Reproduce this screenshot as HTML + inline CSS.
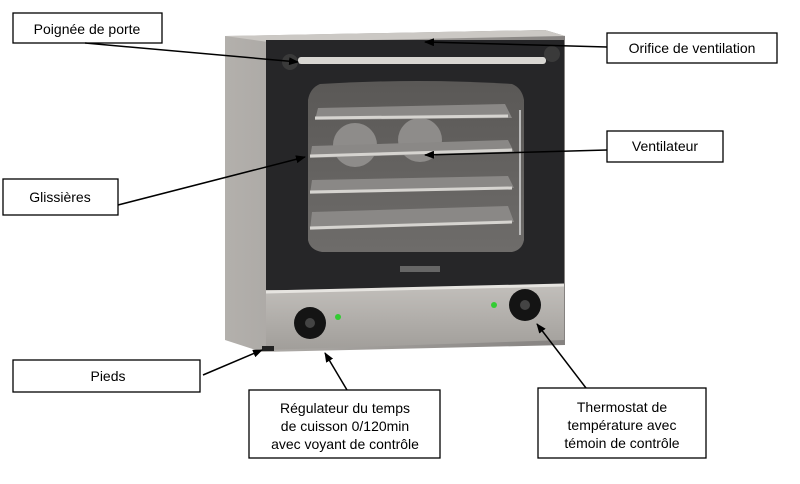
<!DOCTYPE html>
<html><head><meta charset="utf-8"><style>
body{margin:0;background:#fff;}
svg{display:block;font-family:"Liberation Sans",sans-serif;}
</style></head><body>
<svg width="800" height="484" viewBox="0 0 800 484" xmlns="http://www.w3.org/2000/svg">
<defs>
<marker id="a" markerWidth="10" markerHeight="8" refX="9" refY="4" orient="auto" markerUnits="userSpaceOnUse"><path d="M0,0 L10,4 L0,8 z" fill="#000"/></marker>
<linearGradient id="side" x1="0" x2="1"><stop offset="0" stop-color="#b3b0ac"/><stop offset="1" stop-color="#858280"/></linearGradient>
<linearGradient id="panel" x1="0" y1="0" x2="0" y2="1"><stop offset="0" stop-color="#c2bfbb"/><stop offset="1" stop-color="#a19e9a"/></linearGradient>
<linearGradient id="win" x1="0" y1="0" x2="0" y2="1"><stop offset="0" stop-color="#5a5856"/><stop offset="1" stop-color="#6e6c6a"/></linearGradient>
</defs>
<polygon points="225,36 545,30 565,36 565,345 262,352 225,340" fill="url(#side)"/>
<polygon points="225,36 545,30 565,36 268,42" fill="#cbc8c4"/>
<rect x="266" y="40" width="298" height="250" fill="#262628"/>
<polygon points="266,292 564,285 564,340 266,350" fill="url(#panel)"/>
<line x1="266" y1="292" x2="564" y2="285" stroke="#e6e4e0" stroke-width="3"/>
<path d="M320,84 Q420,78 512,84 Q522,88 524,100 L524,240 Q522,250 512,252 L322,252 Q310,250 308,240 L308,100 Q310,88 320,84z" fill="url(#win)"/>
<circle cx="355" cy="145" r="22" fill="#8e8c8a"/><circle cx="420" cy="140" r="22" fill="#8e8c8a"/>
<g fill="#8a8886">
<polygon points="318,108 505,104 512,118 315,120"/>
<polygon points="312,146 508,140 514,152 310,158"/>
<polygon points="312,180 508,176 514,188 310,194"/>
<polygon points="312,212 508,206 514,222 310,230"/>
</g>
<g stroke="#d6d4d0" stroke-width="3" fill="none">
<line x1="315" y1="118" x2="508" y2="116"/><line x1="310" y1="156" x2="512" y2="150"/>
<line x1="310" y1="192" x2="512" y2="188"/><line x1="310" y1="228" x2="512" y2="222"/>
</g>
<line x1="520" y1="110" x2="520" y2="235" stroke="#bbb" stroke-width="2"/>
<rect x="298" y="57" width="248" height="7" rx="3" fill="#d8d6d2"/>
<circle cx="290" cy="62" r="8" fill="#3a3a3a"/><circle cx="552" cy="54" r="8" fill="#3a3a3a"/>
<rect x="400" y="266" width="40" height="6" fill="#666"/>
<circle cx="310" cy="323" r="16" fill="#141414"/><circle cx="310" cy="323" r="5" fill="#444"/>
<circle cx="525" cy="305" r="16" fill="#141414"/><circle cx="525" cy="305" r="5" fill="#444"/>
<circle cx="338" cy="317" r="3" fill="#3c3"/><circle cx="494" cy="305" r="3" fill="#3c3"/>
<rect x="262" y="346" width="12" height="5" fill="#222"/>
<g fill="#fff" stroke="#000" stroke-width="1.3">
<rect x="13" y="13" width="149" height="30"/>
<rect x="607" y="33" width="170" height="30"/>
<rect x="607" y="131" width="116" height="31"/>
<rect x="3" y="179" width="115" height="36"/>
<rect x="13" y="360" width="187" height="32"/>
<rect x="249" y="390" width="191" height="68"/>
<rect x="538" y="388" width="168" height="70"/>
</g>
<g font-size="14" text-anchor="middle" fill="#000">
<text x="87" y="34">Poignée de porte</text>
<text x="692" y="53">Orifice de ventilation</text>
<text x="665" y="151">Ventilateur</text>
<text x="60" y="202">Glissières</text>
<text x="108" y="381">Pieds</text>
<text x="345" y="413">Régulateur du temps</text>
<text x="345" y="431">de cuisson 0/120min</text>
<text x="345" y="449">avec voyant de contrôle</text>
<text x="622" y="412">Thermostat de</text>
<text x="622" y="430">température avec</text>
<text x="622" y="448">témoin de contrôle</text>
</g>
<g stroke="#000" stroke-width="1.5" marker-end="url(#a)">
<line x1="85" y1="43" x2="298" y2="62"/>
<line x1="607" y1="47" x2="425" y2="42"/>
<line x1="607" y1="150" x2="425" y2="155"/>
<line x1="118" y1="205" x2="305" y2="157"/>
<line x1="203" y1="375" x2="262" y2="350"/>
<line x1="347" y1="390" x2="325" y2="353"/>
<line x1="586" y1="388" x2="537" y2="324"/>
</g>
</svg>
</body></html>
